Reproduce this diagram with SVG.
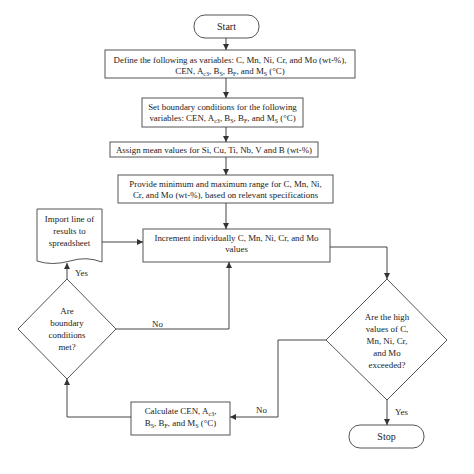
<svg xmlns="http://www.w3.org/2000/svg" width="474" height="474" viewBox="0 0 474 474">
<defs>
<marker id="ah" viewBox="0 0 10 10" refX="10" refY="5" markerWidth="6" markerHeight="6" orient="auto" markerUnits="userSpaceOnUse"><path d="M0,0 L10,5 L0,10 z" fill="#333"/></marker>
</defs>
<style>
.s{fill:#fff;stroke:#555;stroke-width:1}
.t{font-family:"Liberation Serif","Times New Roman",serif;font-size:8.9px;fill:#222;text-anchor:middle}
.l{font-family:"Liberation Serif","Times New Roman",serif;font-size:8.9px;fill:#222}
.big{font-size:10px}
.c{fill:none;stroke:#444;stroke-width:1;marker-end:url(#ah)}
.sub{font-size:6px}
</style>
<rect width="474" height="474" fill="#fff"/>
<g id="start"><rect class="s" x="194" y="15" width="65" height="23" rx="11"/><text class="t big" x="226.5" y="30">Start</text></g>
<g id="define"><rect class="s" x="105" y="50" width="250" height="28"/>
<text class="t" x="230" y="63">Define the following as variables: C, Mn, Ni, Cr, and Mo (wt-%),</text>
<text class="t" x="230" y="74">CEN, A<tspan class="sub" dy="1.5">c3</tspan><tspan dy="-1.5">, B</tspan><tspan class="sub" dy="1.5">S</tspan><tspan dy="-1.5">, B</tspan><tspan class="sub" dy="1.5">F</tspan><tspan dy="-1.5">, and M</tspan><tspan class="sub" dy="1.5">S</tspan><tspan dy="-1.5"> (°C)</tspan></text></g>
<g id="boundary"><rect class="s" x="142" y="98" width="161" height="29"/>
<text class="t" x="222.5" y="110">Set boundary conditions for the following</text>
<text class="t" x="222.5" y="121">variables: CEN, A<tspan class="sub" dy="1.5">c3</tspan><tspan dy="-1.5">, B</tspan><tspan class="sub" dy="1.5">S</tspan><tspan dy="-1.5">, B</tspan><tspan class="sub" dy="1.5">F</tspan><tspan dy="-1.5">, and M</tspan><tspan class="sub" dy="1.5">S</tspan><tspan dy="-1.5"> (°C)</tspan></text></g>
<g id="assign"><rect class="s" x="110" y="142" width="208" height="15"/>
<text class="t" x="214" y="152.5">Assign mean values for Si, Cu, Ti, Nb, V and B (wt-%)</text></g>
<g id="provide"><rect class="s" x="118" y="175" width="215" height="28"/>
<text class="t" x="225.5" y="187">Provide minimum and maximum range for C, Mn, Ni,</text>
<text class="t" x="225.5" y="198">Cr, and Mo (wt-%), based on relevant specifications</text></g>
<g id="increment"><rect class="s" x="143" y="229" width="187" height="33"/>
<text class="t" x="236.5" y="241">Increment individually C, Mn, Ni, Cr, and Mo</text>
<text class="t" x="236.5" y="252">values</text></g>
<g id="import"><path class="s" d="M37,209 H102 V262 Q86,256 70,261 Q52,266 37,261 Z"/>
<text class="t" x="69.5" y="222">Import line of</text>
<text class="t" x="69.5" y="234">results to</text>
<text class="t" x="69.5" y="246">spreadsheet</text></g>
<g id="met"><path class="s" d="M67,279 L116,329 L67,379 L18,329 Z"/>
<text class="t" x="67" y="314">Are</text>
<text class="t" x="67" y="326">boundary</text>
<text class="t" x="67" y="338">conditions</text>
<text class="t" x="67" y="350">met?</text></g>
<g id="exceeded"><path class="s" d="M387,279 L447,340 L387,400 L326,340 Z"/>
<text class="t" x="387" y="320">Are the high</text>
<text class="t" x="387" y="332">values of C,</text>
<text class="t" x="387" y="344">Mn, Ni, Cr,</text>
<text class="t" x="387" y="356">and Mo</text>
<text class="t" x="387" y="368">exceeded?</text></g>
<g id="calculate"><rect class="s" x="131" y="402" width="99" height="33"/>
<text class="t" x="180.5" y="414">Calculate CEN, A<tspan class="sub" dy="1.5">c3</tspan><tspan dy="-1.5">,</tspan></text>
<text class="t" x="180.5" y="426">B<tspan class="sub" dy="1.5">S</tspan><tspan dy="-1.5">, B</tspan><tspan class="sub" dy="1.5">F</tspan><tspan dy="-1.5">, and M</tspan><tspan class="sub" dy="1.5">S</tspan><tspan dy="-1.5"> (°C)</tspan></text></g>
<g id="stop"><rect class="s" x="349" y="425" width="75" height="23" rx="11"/><text class="t big" x="386.5" y="440">Stop</text></g>
<g id="connectors">
<path class="c" d="M226,38 V50"/>
<path class="c" d="M226,78 V98"/>
<path class="c" d="M226,127 V142"/>
<path class="c" d="M226,157 V175"/>
<path class="c" d="M226,203 V229"/>
<path class="c" d="M330,247 H387 V279"/>
<path class="c" d="M102,242 H143"/>
<path class="c" d="M67,279 V263"/>
<path class="c" d="M116,329 H229 V262"/>
<path class="c" d="M326,340 H278 V417 H230"/>
<path class="c" d="M131,417 H67 V379"/>
<path class="c" d="M387,400 V425"/>
<text class="l" x="75" y="276">Yes</text>
<text class="l" x="152" y="327">No</text>
<text class="l" x="256" y="413">No</text>
<text class="l" x="395" y="415">Yes</text>
</g>
</svg>
